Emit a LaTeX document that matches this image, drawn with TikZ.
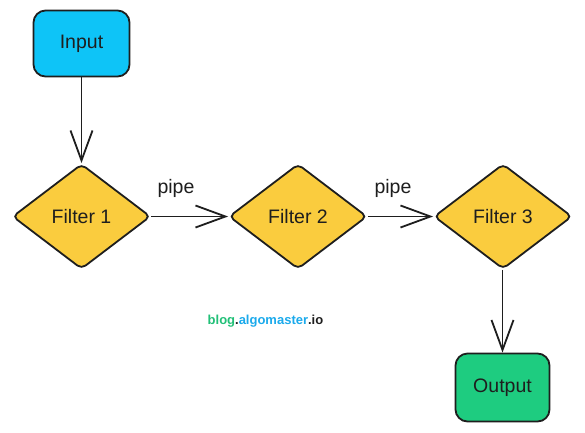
\documentclass[tikz,border=0pt]{standalone}
\usepackage{fontspec}
\setmainfont{Liberation Sans}
\usetikzlibrary{shapes.geometric,arrows.meta}
\definecolor{inputblue}{RGB}{14,196,247}
\definecolor{filteryellow}{RGB}{250,204,62}
\definecolor{outgreen}{RGB}{30,204,128}
\definecolor{wmgreen}{RGB}{34,192,120}
\definecolor{wmblue}{RGB}{27,170,236}
\definecolor{ink}{RGB}{30,30,30}
\tikzset{
  every node/.style={text=ink},
  procbox/.style={draw=ink, line width=1.8pt, rounded corners=12pt, inner sep=0pt, font=\fontsize{19.5}{22}\selectfont},
  filterdia/.style={draw=ink, line width=1.8pt, diamond, aspect=1.32, inner sep=0pt, minimum width=138pt, minimum height=105pt, rounded corners=5pt, fill=filteryellow, font=\fontsize{19.5}{22}\selectfont},
  flow/.style={draw=ink, line width=1.8pt, -{Straight Barb[length=30pt,width=22pt,line width=1.8pt]}},
  lbl/.style={font=\fontsize{19.5}{22}\selectfont}
}
\begin{document}
\begin{tikzpicture}[x=1pt,y=-1pt]
\useasboundingbox (0,0) rectangle (585,432);
\fill[white] (0,0) rectangle (585,432);
\node[procbox, fill=inputblue, minimum width=96pt, minimum height=66pt] (input) at (81.5,43.5) {Input};
\node[filterdia] (f1) at (81.5,216.5) {Filter 1};
\node[filterdia] (f2) at (298,216.5) {Filter 2};
\node[filterdia] (f3) at (503,216.5) {Filter 3};
\node[procbox, fill=outgreen, minimum width=94pt, minimum height=68pt] (output) at (502.5,387.5) {Output};
\draw[flow] (input.south) -- (input.south |- f1.north);
\draw[flow] (f1.east) -- (f2.west);
\draw[flow] (f2.east) -- (f3.west);
\draw[flow] (f3.south -| output.north) -- (output.north);
\node[lbl] (p1) at (176,188) {pipe};
\node[lbl] (p2) at (393,188) {pipe};
\node[font=\bfseries\fontsize{13}{15}\selectfont] (wm) at (265.5,321) {\textcolor{wmgreen}{blog}\textcolor{ink}{.}\textcolor{wmblue}{algomaster}\textcolor{ink}{.io}};
\end{tikzpicture}
\end{document}
